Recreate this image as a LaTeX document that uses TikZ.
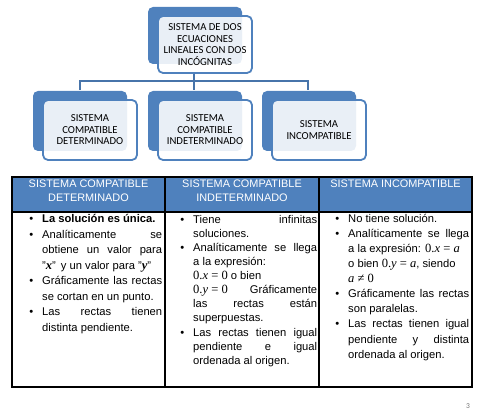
\documentclass[tikz,border=0pt]{standalone}
\usepackage{fontspec}
\setmainfont{Liberation Sans}
\newfontfamily\calibri{Carlito}
\newfontfamily\ecufont[Scale=1.12]{Liberation Serif}
\newcommand{\ecu}[1]{{\ecufont #1}}
\usepackage{enumitem}
\usetikzlibrary{shadows}
\definecolor{acento}{HTML}{4F81BD}
\setlist[itemize]{label=\textbullet, itemsep=0pt, topsep=0pt, parsep=0pt, partopsep=0pt, labelsep=9pt}
\tolerance=10000 \hbadness=10000

\begin{document}
\begin{tikzpicture}[x=1pt, y=-1pt,
  caja/.style={draw=acento, line width=1.8pt, rounded corners=5pt,
    fill=white, fill opacity=0.88, text opacity=1, text=black,
    minimum width=94pt, align=center, inner sep=2pt,
    font=\calibri\fontsize{10.7}{11.5}\selectfont,
    copy shadow={shadow xshift=-10pt, shadow yshift=9pt, fill=acento, draw=none, fill opacity=1}},
  enlace/.style={draw=acento!90!black, line width=2pt},
  rejilla/.style={draw=black, line width=1.2pt},
  cabecera/.style={anchor=north, text=white, align=center, inner sep=1pt,
    font=\fontsize{10.9}{14}\selectfont},
  celda/.style={anchor=north west, inner sep=0pt, align=justify}]
  \useasboundingbox (0,0) rectangle (488,419);

  % esquema
  \node[caja, minimum height=57pt] (sis) at (205,44.5) {SISTEMA DE DOS\\ECUACIONES\\LINEALES CON DOS\\INCÓGNITAS};
  \node[caja, minimum height=60pt] (det) at (90,130) {SISTEMA\\COMPATIBLE\\DETERMINADO};
  \node[caja, minimum height=60pt] (ind) at (205,130) {SISTEMA\\COMPATIBLE\\INDETERMINADO};
  \node[caja, minimum height=60pt] (inc) at (319,130) {SISTEMA\\INCOMPATIBLE};
  \draw[enlace] ([xshift=-11pt]sis.south) -- ++(0,7.5) -| ([xshift=-10pt,yshift=9pt]det.north);
  \draw[enlace] ([xshift=-11pt]sis.south) -- ++(0,7.5) -| ([xshift=-11pt,yshift=9pt]ind.north);
  \draw[enlace] ([xshift=-11pt]sis.south) -- ++(0,7.5) -| ([xshift=-11pt,yshift=9pt]inc.north);

  % tabla
  \fill[acento] (12,177) rectangle (472,212);
  \draw[rejilla] (12,177) rectangle (472,387);
  \draw[rejilla] (12,212) -- (472,212);
  \draw[rejilla] (165,177) -- (165,387);
  \draw[rejilla] (319,177) -- (319,387);

  \node[cabecera] (hA) at (88.5,179) {SISTEMA COMPATIBLE\\DETERMINADO};
  \node[cabecera] (hB) at (242,179) {SISTEMA COMPATIBLE\\INDETERMINADO};
  \node[cabecera] (hC) at (395.5,179) {SISTEMA INCOMPATIBLE};

  \node[celda, text width=150pt, font=\fontsize{11.2}{15.5}\selectfont] (cA) at (12,207) {%
    \begin{itemize}[leftmargin=30pt]
      \item \textbf{La solución es única.}
      \item Analíticamente se\linebreak obtiene un valor para\linebreak "\ecu{\textbf{\textit{x}}}"\, y un valor para "\ecu{\textbf{\textit{y}}}"
      \item Gráficamente las rectas\linebreak se cortan en un punto.
      \item Las rectas tienen\linebreak distinta pendiente.
    \end{itemize}};
  \node[celda, text width=152pt, font=\fontsize{11.2}{14.1}\selectfont] (cB) at (165,209) {%
    \begin{itemize}[leftmargin=28pt]
      \item Tiene infinitas\linebreak soluciones.
      \item Analíticamente se llega\linebreak a la expresión:\newline \mbox{\ecu{0.\textit{x}~=~0}} o bien\newline \mbox{\ecu{0.\textit{y}~=~0}} Gráficamente\linebreak las rectas están\linebreak superpuestas.
      \item Las rectas tienen igual\linebreak pendiente e igual\linebreak ordenada al origen.
    \end{itemize}};
  \node[celda, text width=150pt, font=\fontsize{11.2}{15.1}\selectfont] (cC) at (319,207) {%
    \begin{itemize}[leftmargin=29pt]
      \item No tiene solución.
      \item Analíticamente se llega\linebreak a la expresión: \mbox{\ecu{0.\textit{x}~=~\textit{a}}}\newline o bien \mbox{\ecu{0.\textit{y}~=~\textit{a}}}, siendo\newline \mbox{\ecu{\textit{a}~≠~0}}
      \item Gráficamente las rectas\linebreak son paralelas.
      \item Las rectas tienen igual\linebreak pendiente y distinta\linebreak ordenada al origen.
    \end{itemize}};

  \node[font=\calibri\fontsize{7.5}{9}\selectfont, text=black!55] (pag) at (468,406) {3};
\end{tikzpicture}
\end{document}
